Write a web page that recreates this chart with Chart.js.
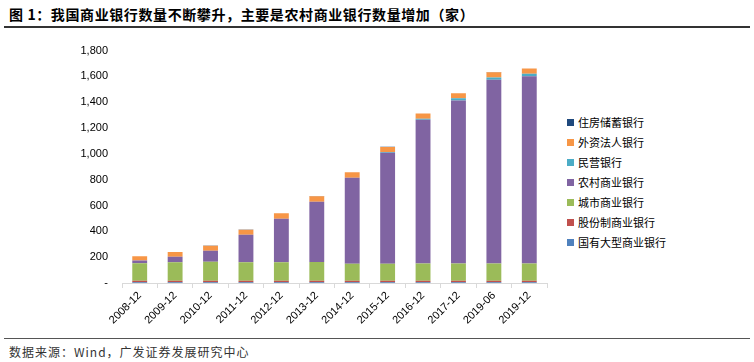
<!DOCTYPE html>
<html><head><meta charset="utf-8">
<script src="https://cdn.jsdelivr.net/npm/chart.js@4"></script>
<style>
html,body{margin:0;padding:0;background:#fff;}
#wrap{position:relative;width:754px;height:362px;overflow:hidden;font-family:"Noto Sans CJK SC",sans-serif;}
#title{position:absolute;left:9px;top:5px;font-size:14px;font-weight:bold;color:#000;white-space:nowrap;line-height:18px;letter-spacing:0.6px;}
#tline{position:absolute;left:4px;top:26px;width:746px;height:2px;background:#333;}
#bline{position:absolute;left:4px;top:338px;width:746px;height:1px;background:#555;}
#src{position:absolute;left:9px;top:344px;font-size:12px;color:#333;line-height:16px;white-space:nowrap;letter-spacing:1px;}
#cv{position:absolute;left:0;top:30px;}
#legend{position:absolute;left:567px;top:112px;font-size:11px;color:#000;}
.li{height:20px;line-height:20px;display:flex;align-items:center;white-space:nowrap;}
.sw{width:7px;height:7px;margin-right:4px;flex:none;}
</style></head>
<body>
<div id="wrap">
  <div id="title">图 1：我国商业银行数量不断攀升，主要是农村商业银行数量增加（家）</div>
  <div id="tline"></div>
  <canvas id="cv" width="560" height="305"></canvas>
  <div id="legend"></div>
  <div id="bline"></div>
  <div id="src">数据来源：Wind，广发证券发展研究中心</div>
</div>
<script>
const categories = ['2008-12','2009-12','2010-12','2011-12','2012-12','2013-12','2014-12','2015-12','2016-12','2017-12','2019-06','2019-12'];
const stateOwned   = [5,5,5,5,5,5,5,5,5,5,6,6];
const jointStock   = [12,12,12,12,12,12,12,12,12,12,12,12];
const cityComm     = [136,143,147,144,144,145,133,133,134,134,134,134];
const ruralComm    = [22,43,85,212,337,468,665,859,1114,1262,1423,1450];
const privateBanks = [0,0,0,0,0,0,1,5,8,17,17,18];
const foreignBanks = [32,37,40,40,42,42,41,40,39,39,41,41];
const housingBanks = [1,1,1,1,1,1,1,1,1,1,1,1];
const seriesNames  = ['国有大型商业银行','股份制商业银行','城市商业银行','农村商业银行','民营银行','外资法人银行','住房储蓄银行'];
const seriesValues = [stateOwned, jointStock, cityComm, ruralComm, privateBanks, foreignBanks, housingBanks];
const seriesColors = ['#4F81BD','#C0504D','#9BBB59','#8064A2','#4BACC6','#F79646','#1F497D'];
const yTicks = [0,200,400,600,800,1000,1200,1400,1600,1800];

const datasets = seriesNames.map((n,i)=>({
  label:n, data:seriesValues[i], backgroundColor:seriesColors[i], borderWidth:0,
  stack:'s', barPercentage:0.42, categoryPercentage:1.0
}));

new Chart(document.getElementById('cv'), {
  type:'bar',
  data:{labels:categories, datasets},
  options:{
    responsive:false, animation:false,
    layout:{padding:{top:17,right:13,left:0,bottom:0}},
    plugins:{legend:{display:false}, tooltip:{enabled:false}},
    scales:{
      x:{stacked:true,
        grid:{display:true,drawOnChartArea:false,drawTicks:true,tickLength:5,color:'#d9d9d9',offset:true},
        border:{display:true,color:'#d9d9d9'},
        ticks:{minRotation:45,maxRotation:45,autoSkip:false,padding:1,color:'#000',font:{family:'"Liberation Sans", Arial',size:11}},
        afterFit:s=>{s.height=52;}
      },
      y:{stacked:true,min:0,max:1800,
        grid:{display:false,drawTicks:false},
        border:{display:false},
        afterBuildTicks:s=>{s.ticks=yTicks.map(v=>({value:v}));},
        ticks:{padding:14,color:'#000',font:{family:'"Liberation Sans", Arial',size:11},
          callback:v=>v===0?'-':v.toLocaleString('en-US')},
        afterFit:s=>{s.width=122;}
      }
    }
  }
});

const lg = document.getElementById('legend');
for (let i=seriesNames.length-1;i>=0;i--){
  const d=document.createElement('div'); d.className='li';
  const sw=document.createElement('span'); sw.className='sw'; sw.style.background=seriesColors[i];
  const t=document.createElement('span'); t.textContent=seriesNames[i];
  d.appendChild(sw); d.appendChild(t); lg.appendChild(d);
}
</script>
</body></html>
